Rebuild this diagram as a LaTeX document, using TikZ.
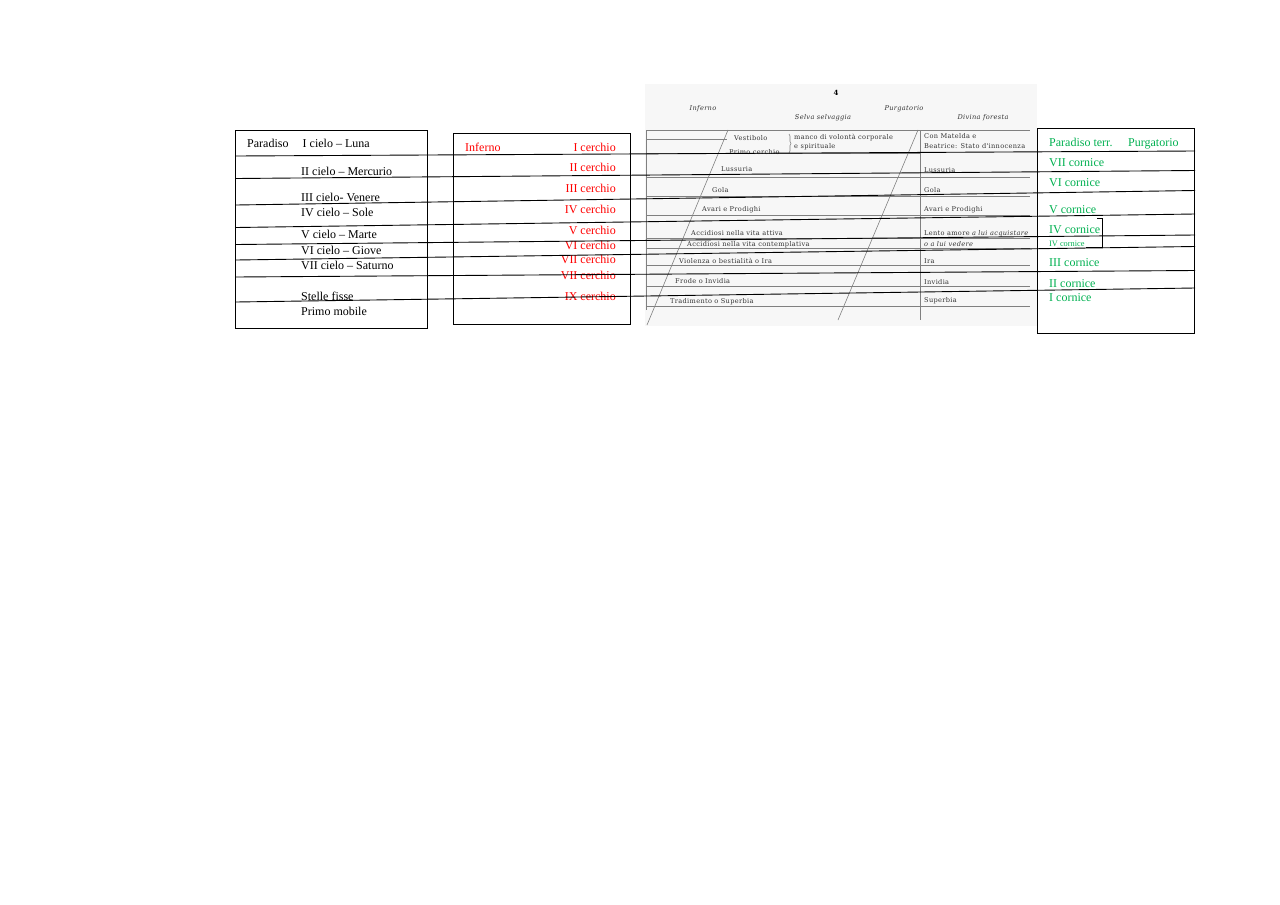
\documentclass[tikz,border=0pt]{standalone}
\usepackage{fontspec}
\setmainfont{Liberation Serif}
\newfontfamily\scanfont[LetterSpace=5]{DejaVu Serif}
\usetikzlibrary{decorations.pathreplacing}
\definecolor{verde}{RGB}{0,176,80}

\begin{document}
\begin{tikzpicture}[x=1pt,y=-1pt,
    cielo/.style={anchor=base west, inner sep=0, font=\fontsize{12}{14}\selectfont},
    cerchio/.style={anchor=base east, inner sep=0, text=red, font=\fontsize{12}{14}\selectfont},
    corn/.style={anchor=base west, inner sep=0, text=verde, font=\fontsize{12}{14}\selectfont},
    scan/.style={anchor=base west, inner sep=0, text=black!80, font=\scanfont\fontsize{6.6}{7}\selectfont},
    testa/.style={anchor=base, inner sep=0, text=black!80, font=\scanfont\itshape\fontsize{6.6}{7}\selectfont},
    riga/.style={black!50, line width=0.6pt},
    ponte/.style={line width=0.9pt}]
            \useasboundingbox (0,0) rectangle (1280,905);

            % Scanned table
            \fill[black!3] (645,84) rectangle (1037,326);
            \node[anchor=base, inner sep=0, font=\scanfont\bfseries\fontsize{7}{8}\selectfont] (num) at (836,95.5) {4};
            \node[testa] (hinf) at (703,110) {Inferno};
            \node[testa] (hselva) at (823,119) {Selva selvaggia};
            \node[testa] (hpurg) at (904,110) {Purgatorio};
            \node[testa] (hdiv) at (983,119) {Divina foresta};

            \draw[riga] (646,130) -- (1030,130);
            \draw[riga] (646,139) -- (727,139);
            \draw[riga] (646,153) -- (920,153);
            \draw[riga] (646,177) -- (1030,177);
            \draw[riga] (646,196) -- (1030,196);
            \draw[riga] (646,215) -- (1030,215);
            \draw[riga] (646,238) -- (1030,238);
            \draw[riga] (646,248) -- (1030,248);
            \draw[riga] (646,265) -- (1030,265);
            \draw[riga] (646,286) -- (1030,286);
            \draw[riga] (646,306) -- (1030,306);
            \draw[riga] (646,130) -- (646,310);
            \draw[riga] (920,130) -- (920,320);
            \draw[riga] (728,130) -- (647,325);
            \draw[riga] (918,130) -- (838,320);

            \node[scan] (vest) at (734,140.5) {Vestibolo};
            \node[scan] (primo) at (729,154.5) {Primo cerchio};
            \draw[riga, decorate, decoration={brace, amplitude=2pt}] (789,134) -- (789,153);
            \node[scan] (manco) at (794,139.5) {manco di volontà corporale};
            \node[scan] (spir) at (794,148.5) {e spirituale};
            \node[scan] (luss) at (721,171.5) {Lussuria};
            \node[scan] (gola) at (712,192) {Gola};
            \node[scan] (avari) at (702,211.5) {Avari e Prodighi};
            \node[scan] (acc1) at (691,235.5) {Accidiosi nella vita attiva};
            \node[scan] (acc2) at (687,246.5) {Accidiosi nella vita contemplativa};
            \node[scan] (viol) at (679,263) {Violenza o bestialità o Ira};
            \node[scan] (frode) at (675,283) {Frode o Invidia};
            \node[scan] (trad) at (670,303) {Tradimento o Superbia};

            \node[scan] (matel) at (924,138.5) {Con Matelda e};
            \node[scan] (beat) at (924,148.5) {Beatrice: Stato d'innocenza};
            \node[scan] (pluss) at (924,172) {Lussuria};
            \node[scan] (pgola) at (924,192.5) {Gola};
            \node[scan] (pavari) at (924,211.5) {Avari e Prodighi};
            \node[scan] (lento) at (924,235.5) {Lento amore \textit{a lui acquistare}};
            \node[scan] (vedere) at (924,246.5) {\textit{o a lui vedere}};
            \node[scan] (ira) at (924,263.5) {Ira};
            \node[scan] (invid) at (924,284) {Invidia};
            \node[scan] (superb) at (924,302.5) {Superbia};

            % Paradiso
            \draw[line width=1pt] (235,130) rectangle (427,328);
            \node[cielo] (par) at (247,147.5) {Paradiso};
            \node[cielo] (c1) at (302.5,147.5) {I cielo – Luna};
            \node[cielo] (c2) at (301,175) {II cielo – Mercurio};
            \node[cielo] (c3) at (301,201) {III cielo- Venere};
            \node[cielo] (c4) at (301,216.5) {IV cielo – Sole};
            \node[cielo] (c5) at (301,238.5) {V cielo – Marte};
            \node[cielo] (c6) at (301,254) {VI cielo – Giove};
            \node[cielo] (c7) at (301,269.5) {VII cielo – Saturno};
            \node[cielo] (c8) at (301,300) {Stelle fisse};
            \node[cielo] (c9) at (301,315) {Primo mobile};

            % Inferno
            \draw[line width=1pt] (453,133.5) rectangle (630,324.5);
            \node[cerchio, anchor=base west] (inf) at (465,151) {Inferno};
            \node[cerchio] (k1) at (616,151) {I cerchio};
            \node[cerchio] (k2) at (616,171.5) {II cerchio};
            \node[cerchio] (k3) at (616,192.3) {III cerchio};
            \node[cerchio] (k4) at (616,213.3) {IV cerchio};
            \node[cerchio] (k5) at (616,234.3) {V cerchio};
            \node[cerchio] (k6) at (616,249) {VI cerchio};
            \node[cerchio] (k7) at (616,263.7) {VII cerchio};
            \node[cerchio] (k8) at (616,279) {VII cerchio};
            \node[cerchio] (k9) at (616,300.7) {IX cerchio};

            % Purgatorio
            \draw[line width=1pt] (1037,128.5) rectangle (1194.5,333.5);
            \node[corn] (pterr) at (1049,146) {Paradiso terr.};
            \node[corn] (purg) at (1128,146) {Purgatorio};
            \node[corn] (g7) at (1049,166) {VII cornice};
            \node[corn] (g6) at (1049,186.7) {VI cornice};
            \node[corn] (g5) at (1049,213.3) {V cornice};
            \node[corn] (g4) at (1049,233.3) {IV cornice};
            \node[corn, font=\fontsize{8.3}{10}\selectfont] (g4b) at (1049,246.5) {IV cornice};
            \node[corn] (g3) at (1049,266) {III cornice};
            \node[corn] (g2) at (1049,287.3) {II cornice};
            \node[corn] (g1) at (1049,301.7) {I cornice};
            \draw (1097,218.5) -| (1102.5,247.5) -- (1086,247.5);

            % Corresponding levels
            \coordinate (a1) at (236,156);   \coordinate (b1) at (1195,151);
            \coordinate (a2) at (236,178.5); \coordinate (b2) at (1195,170.5);
            \coordinate (a3) at (236,205);   \coordinate (b3) at (1195,190.5);
            \coordinate (a4) at (236,227.5); \coordinate (b4) at (1195,214);
            \coordinate (a5) at (236,244.5); \coordinate (b5) at (1195,235);
            \coordinate (a6) at (236,260);   \coordinate (b6) at (1195,246.5);
            \coordinate (a7) at (236,277);   \coordinate (b7) at (1195,270.5);
            \coordinate (a8) at (236,302);   \coordinate (b8) at (1195,288);
            \draw[ponte] (a1) -- (b1);
            \draw[ponte] (a2) -- (b2);
            \draw[ponte] (a3) -- (b3);
            \draw[ponte] (a4) -- (b4);
            \draw[ponte] (a5) -- (b5);
            \draw[ponte] (a6) -- (b6);
            \draw[ponte] (a7) -- (b7);
            \draw[ponte] (a8) -- (b8);
        \end{tikzpicture}
\end{document}
